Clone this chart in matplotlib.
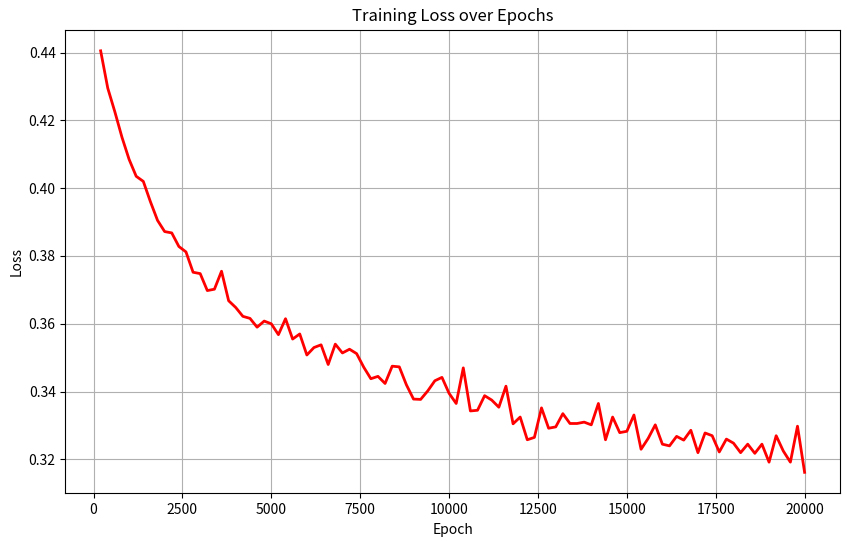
import matplotlib
matplotlib.use("Agg")
import matplotlib.pyplot as plt

plt.rcParams['font.family'] = ['Noto Sans CJK SC', 'DejaVu Sans']

epochs = list(range(200, 20001, 200))
loss = [0.4405,0.4295,0.4225,0.415,0.4085,0.4035,0.402,0.396,0.3905,0.3872,
0.3868,0.3828,0.3812,0.3752,0.3748,0.3698,0.3702,0.3755,0.3668,0.3648,
0.3622,0.3616,0.359,0.3608,0.36,0.3568,0.3615,0.3555,0.357,0.3508,
0.353,0.3538,0.348,0.354,0.3514,0.3525,0.3512,0.3472,0.3438,0.3445,
0.3424,0.3475,0.3473,0.342,0.3378,0.3377,0.3402,0.3432,0.3442,0.3395,
0.3365,0.347,0.3343,0.3345,0.3388,0.3375,0.3354,0.3416,0.3305,0.3325,
0.3258,0.3265,0.3352,0.3292,0.3296,0.3335,0.3306,0.3306,0.331,0.3302,
0.3365,0.3258,0.3325,0.3279,0.3283,0.3331,0.323,0.3262,0.3302,0.3245,
0.324,0.3268,0.3257,0.3286,0.322,0.3278,0.327,0.3222,0.326,0.3248,
0.322,0.3245,0.3218,0.3245,0.3192,0.327,0.3225,0.3192,0.3298,0.3162]

fig, ax = plt.subplots(figsize=(8.5, 5.41), dpi=100)
ax.plot(epochs, loss, color='red', linewidth=2)
ax.set_title('Training Loss over Epochs')
ax.set_xlabel('Epoch')
ax.set_ylabel('Loss')
ax.grid(True)
fig.subplots_adjust(left=0.077, right=0.988, top=0.945, bottom=0.088)
fig.savefig('out.png')
